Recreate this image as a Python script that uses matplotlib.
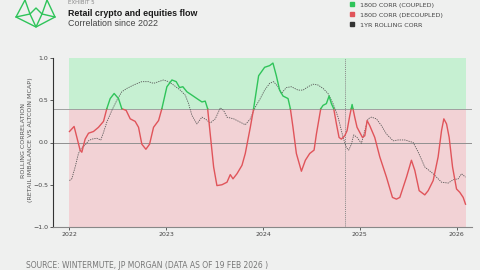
import numpy as np
import matplotlib
matplotlib.use("Agg")
import matplotlib.pyplot as plt
from matplotlib.patches import Patch

# 180D rolling correlation (decimal year, value)
t_180 = [2022.000, 2022.048, 2022.110, 2022.128, 2022.162, 2022.197, 2022.248, 2022.300,
         2022.352, 2022.386, 2022.421, 2022.462, 2022.507, 2022.541, 2022.586, 2022.628,
         2022.679, 2022.714, 2022.748, 2022.790, 2022.828, 2022.869, 2022.921, 2022.955,
         2023.007, 2023.059, 2023.103, 2023.138, 2023.172, 2023.214, 2023.266, 2023.317,
         2023.369, 2023.403, 2023.428, 2023.462, 2023.490, 2023.524, 2023.576, 2023.628,
         2023.662, 2023.690, 2023.731, 2023.783, 2023.817, 2023.869, 2023.903, 2023.955,
         2024.017, 2024.069, 2024.103, 2024.138, 2024.172, 2024.207, 2024.259, 2024.283,
         2024.310, 2024.345, 2024.397, 2024.438, 2024.483, 2024.528, 2024.552, 2024.597,
         2024.621, 2024.655, 2024.683, 2024.707, 2024.731, 2024.759, 2024.786, 2024.810,
         2024.845, 2024.869, 2024.897, 2024.912, 2024.921, 2024.930, 2024.948, 2024.972,
         2025.000, 2025.028, 2025.052, 2025.076, 2025.103, 2025.155, 2025.207, 2025.276,
         2025.338, 2025.379, 2025.414, 2025.483, 2025.534, 2025.569, 2025.614, 2025.672,
         2025.707, 2025.759, 2025.810, 2025.845, 2025.869, 2025.897, 2025.924, 2025.959,
         2026.000, 2026.034, 2026.069, 2026.093]
v_180 = [0.13, 0.19, -0.09, -0.115, 0.04, 0.11, 0.13, 0.18,
         0.25, 0.40, 0.52, 0.58, 0.52, 0.40, 0.38, 0.28,
         0.25, 0.18, -0.02, -0.08, -0.02, 0.18, 0.26, 0.40,
         0.66, 0.74, 0.72, 0.65, 0.66, 0.60, 0.56, 0.52,
         0.48, 0.49, 0.40, 0.02, -0.29, -0.51, -0.50, -0.47,
         -0.38, -0.43, -0.37, -0.27, -0.13, 0.18, 0.40, 0.79,
         0.89, 0.91, 0.94, 0.79, 0.62, 0.55, 0.52, 0.40,
         0.18, -0.13, -0.34, -0.21, -0.13, -0.09, 0.10, 0.40,
         0.44, 0.46, 0.55, 0.46, 0.40, 0.22, 0.06, 0.04,
         0.08, 0.14, 0.32, 0.40, 0.45, 0.40, 0.30, 0.18,
         0.12, 0.06, 0.08, 0.26, 0.20, 0.06, -0.17, -0.41,
         -0.65, -0.67, -0.65, -0.41, -0.21, -0.33, -0.57, -0.62,
         -0.57, -0.45, -0.17, 0.14, 0.28, 0.22, 0.06, -0.29,
         -0.55, -0.59, -0.65, -0.73]

# 1YR rolling correlation
t_1y = [2022.000, 2022.024, 2022.059, 2022.093, 2022.128, 2022.162, 2022.197, 2022.231,
        2022.283, 2022.324, 2022.352, 2022.386, 2022.438, 2022.490, 2022.541, 2022.593,
        2022.662, 2022.748, 2022.817, 2022.869, 2022.921, 2022.972, 2023.024, 2023.076,
        2023.145, 2023.197, 2023.231, 2023.266, 2023.317, 2023.369, 2023.414, 2023.455,
        2023.507, 2023.559, 2023.593, 2023.628, 2023.697, 2023.766, 2023.817, 2023.869,
        2023.921, 2023.972, 2024.017, 2024.069, 2024.110, 2024.155, 2024.190, 2024.241,
        2024.293, 2024.362, 2024.414, 2024.466, 2024.517, 2024.569, 2024.621, 2024.672,
        2024.724, 2024.776, 2024.828, 2024.862, 2024.886, 2024.914, 2024.938, 2024.972,
        2025.017, 2025.052, 2025.086, 2025.121, 2025.172, 2025.224, 2025.276, 2025.345,
        2025.397, 2025.466, 2025.552, 2025.603, 2025.672, 2025.759, 2025.845, 2025.914,
        2025.966, 2026.017, 2026.052, 2026.093]
v_1y = [-0.45, -0.43, -0.29, -0.13, -0.06, -0.03, 0.02, 0.04,
        0.05, 0.03, 0.12, 0.24, 0.38, 0.50, 0.60, 0.64,
        0.68, 0.72, 0.72, 0.70, 0.72, 0.74, 0.72, 0.68,
        0.62, 0.56, 0.46, 0.32, 0.22, 0.30, 0.27, 0.23,
        0.28, 0.41, 0.38, 0.30, 0.28, 0.24, 0.21, 0.28,
        0.42, 0.52, 0.62, 0.70, 0.72, 0.66, 0.58, 0.65,
        0.66, 0.62, 0.62, 0.66, 0.69, 0.68, 0.64, 0.58,
        0.46, 0.30, 0.06, -0.06, -0.09, -0.02, 0.09, 0.06,
        -0.01, 0.14, 0.28, 0.30, 0.28, 0.20, 0.10, 0.02,
        0.03, 0.03, 0.00, -0.11, -0.29, -0.37, -0.47, -0.48,
        -0.44, -0.43, -0.37, -0.41]

threshold = 0.4
event_date = 2024.845
years = [2022, 2023, 2024, 2025, 2026]
yticks = [-1.0, -0.5, 0.0, 0.5, 1.0]

bg = "#eff0ef"
green = "#2fc45a"
red = "#e0545a"

fig = plt.figure(figsize=(4.8, 2.7), dpi=100, facecolor=bg)
ax = fig.add_axes([53 / 480, 1 - 227 / 270, (472 - 53) / 480, (227 - 58) / 270])
ax.set_facecolor(bg)

t0, t1 = t_180[0], t_180[-1]
ax.fill_between([t0, t1], threshold, 1.0, color="#c6f0d2", lw=0, zorder=0)
ax.fill_between([t0, t1], -1.0, threshold, color="#f2d2d5", lw=0, zorder=0)

ax.axhline(threshold, color="#a0a0a0", lw=0.7, zorder=1)
ax.axhline(0, color="#909090", lw=0.7, zorder=1)
ax.axvline(event_date, color="#888888", lw=0.7, ls=(0, (1, 1)), zorder=1)

t = np.array(t_180)
v = np.array(v_180)
eps = 1e-9
ax.plot(t, np.ma.masked_where(v > threshold + eps, v), color=red, lw=1.0, zorder=3,
        solid_joinstyle="round")
ax.plot(t, np.ma.masked_where(v < threshold - eps, v), color=green, lw=1.0, zorder=3,
        solid_joinstyle="round")
ax.plot(t_1y, v_1y, color="#555555", lw=0.6, ls=(0, (1.5, 1.2)), zorder=2)

ax.set_xlim(2021.83, 2026.16)
ax.set_ylim(-1.0, 1.0)
ax.set_xticks(years)
ax.set_xticklabels([str(y) for y in years])
ax.set_yticks(yticks)
ax.set_yticklabels(["%.1f" % y if y >= 0 else "\u2212%.1f" % -y for y in yticks])
ax.tick_params(labelsize=4.5, colors="#444444", length=2, width=0.6, pad=1.5)
for s in ["top", "right"]:
    ax.spines[s].set_visible(False)
ax.spines["left"].set_color("#333333")
ax.spines["bottom"].set_color("#888888")
ax.spines["left"].set_linewidth(0.8)
ax.spines["bottom"].set_linewidth(0.8)

fig.text(27 / 480, 1 - 140 / 270, "ROLLING CORRELATION\n(RETAIL IMBALANCE VS ALTCOIN MCAP)",
         rotation=90, ha="center", va="center", fontsize=4.6, color="#555555",
         linespacing=1.3)

# titles
fig.text(68 / 480, 1 - 13 / 270, "Retail crypto and equities flow", fontsize=6.4,
         fontweight="bold", color="#1a1a1a", va="center", family="Liberation Sans")
fig.text(68 / 480, 1 - 24 / 270, "Correlation since 2022", fontsize=6.4,
         color="#444444", va="center", family="Liberation Sans")
fig.text(68 / 480, 1 - 2 / 270, "EXHIBIT 5", fontsize=4, color="#888888", va="center")

# logo
lax = fig.add_axes([14 / 480, 1 - 30 / 270, 44 / 480, 30 / 270])
lax.set_xlim(14, 58)
lax.set_ylim(30, 0)
lax.axis("off")
lc = "#2fc45a"
lax.plot([25, 16, 36, 55, 47], [0, 17, 27, 17, 0], color=lc, lw=1.0)
lax.plot([25, 30, 36, 42, 47], [0, 14, 8, 14, 0], color=lc, lw=1.0)
lax.plot([16, 30, 36, 42, 55], [17, 14, 27, 14, 17], color=lc, lw=1.0)

# legend
handles = [Patch(color=green), Patch(color=red), Patch(color="#333333")]
labels = ["180D CORR (COUPLED)", "180D CORR (DECOUPLED)", "1YR ROLLING CORR"]
leg = fig.legend(handles, labels, loc="upper left", bbox_to_anchor=(346 / 480, 1 + 2 / 270),
                 frameon=False, fontsize=4.6, handlelength=0.55, handleheight=0.55,
                 handletextpad=1.0, labelspacing=0.75, borderpad=0.2)
for txt in leg.get_texts():
    txt.set_color("#444444")

fig.text(26 / 480, 1 - 265 / 270, "SOURCE: WINTERMUTE, JP MORGAN (DATA AS OF 19 FEB 2026 )",
         fontsize=5.5, color="#777777", va="center")

fig.savefig("out.png", dpi=100, facecolor=bg)
